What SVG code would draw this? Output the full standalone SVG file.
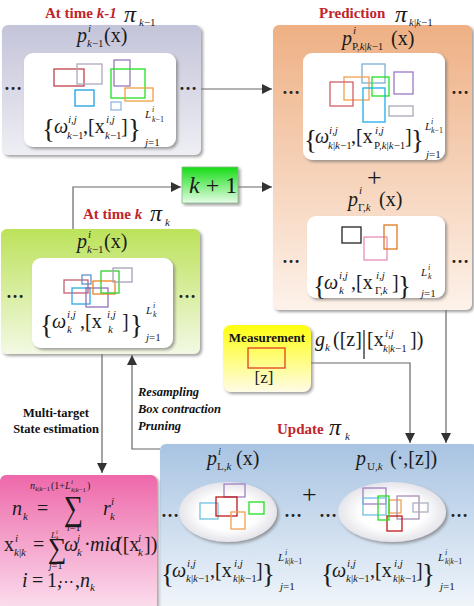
<svg xmlns="http://www.w3.org/2000/svg" width="474" height="606" viewBox="0 0 474 606">
<defs>
<linearGradient id="gLav" x1="0" y1="0" x2="0" y2="1"><stop offset="0" stop-color="#c4c4da"/><stop offset="1" stop-color="#eeeef4"/></linearGradient>
<linearGradient id="gPeach" x1="0" y1="0" x2="0" y2="1"><stop offset="0" stop-color="#eeb084"/><stop offset="1" stop-color="#fdf2ea"/></linearGradient>
<linearGradient id="gGreen" x1="0" y1="0" x2="0" y2="1"><stop offset="0" stop-color="#bce25a"/><stop offset="1" stop-color="#f3f9e4"/></linearGradient>
<linearGradient id="gK" x1="0" y1="0" x2="0" y2="1"><stop offset="0" stop-color="#14dc14"/><stop offset="1" stop-color="#e6fde6"/></linearGradient>
<linearGradient id="gYel" x1="0" y1="0" x2="0" y2="1"><stop offset="0" stop-color="#ffff10"/><stop offset="1" stop-color="#fffbe6"/></linearGradient>
<linearGradient id="gBlue" x1="0" y1="0" x2="0" y2="1"><stop offset="0" stop-color="#a8c4e2"/><stop offset="1" stop-color="#f3f7fb"/></linearGradient>
<linearGradient id="gPink" x1="0" y1="0" x2="0" y2="1"><stop offset="0" stop-color="#ee68aa"/><stop offset="1" stop-color="#fbe0ee"/></linearGradient>
<radialGradient id="gEll" cx="0.5" cy="0.5" r="0.5"><stop offset="0.6" stop-color="#ffffff"/><stop offset="1" stop-color="#e4e4ea"/></radialGradient>
<filter id="sh" x="-5%" y="-5%" width="115%" height="115%"><feDropShadow dx="2" dy="2" stdDeviation="1.5" flood-color="#777" flood-opacity="0.7"/></filter>
<marker id="ah" viewBox="0 0 10 10" refX="10" refY="5" markerWidth="10" markerHeight="10" markerUnits="userSpaceOnUse" orient="auto"><path d="M0,0 L10,5 L0,10 z" fill="#333"/></marker>
</defs>
<style>
.m{font-family:"Liberation Serif","Times New Roman",serif;font-size:20px;fill:#1a1a1a}
.i{font-style:italic}
.s{font-size:11px}
.ss{font-size:8px}
.br{font-size:27px}
.t{font-family:"Liberation Serif",serif;font-weight:bold;font-size:15px;fill:#c0242c}
.pi{font-size:24px;font-style:italic}
.lbl{font-family:"Liberation Serif",serif;font-weight:bold;font-size:12.5px;fill:#111}
.dots{font-family:"Liberation Serif",serif;font-size:18px;font-weight:bold;fill:#222}
.inner{fill:#fff;filter:url(#sh)}
.bx{fill:none;stroke-width:1.3}
.conn{fill:none;stroke:#666;stroke-width:1.2}
</style>

<g id="connectors">
<path class="conn" d="M201,89 H272" marker-end="url(#ah)"/>
<path class="conn" d="M73,229 V187 H181" marker-end="url(#ah)"/>
<path class="conn" d="M238,187 H272" marker-end="url(#ah)"/>
<path class="conn" d="M102,354 V473" marker-end="url(#ah)"/>
<path class="conn" d="M160,449 H132 V355" marker-end="url(#ah)"/>
<path class="conn" d="M311,363 H410 V443" marker-end="url(#ah)"/>
<path class="conn" d="M446,310 V443" marker-end="url(#ah)"/>
</g>

<g id="node-time-k-1">
<rect x="2" y="25" width="199" height="130" rx="6" fill="url(#gLav)" filter="url(#sh)"/>
<rect class="inner" x="24" y="53" width="152" height="94" rx="9"/>
<text class="t" x="45" y="18">At time <tspan class="i">k-1</tspan></text>
<text class="m"><tspan class="pi" x="124" y="22">π</tspan><tspan class="s i" x="139" y="26">k</tspan><tspan class="s">−1</tspan></text>
<text class="m"><tspan class="i" x="77" y="42">p</tspan><tspan class="s i" x="88" y="32">i</tspan><tspan class="s i" x="87" y="47">k</tspan><tspan class="s">−1</tspan><tspan x="104" y="42">(x)</tspan></text>
<text class="dots" x="4" y="90">…</text>
<text class="dots" x="179" y="90">…</text>
<rect class="bx" x="54" y="69" width="30" height="17" stroke="#c0404a"/>
<rect class="bx" x="77" y="64" width="25" height="20" stroke="#b0a8bc"/>
<rect class="bx" x="75" y="90" width="19" height="16" stroke="#1e9ee0" stroke-width="2"/>
<rect class="bx" x="114" y="60" width="16" height="26" stroke="#9a78b8"/>
<rect class="bx" x="111" y="69" width="34" height="29" stroke="#22e022" stroke-width="2"/>
<rect class="bx" x="125" y="88" width="28" height="13" stroke="#f0a040"/>
<rect class="bx" x="111" y="102" width="10" height="8" stroke="#90b8e0"/>
<text class="m"><tspan class="br" x="42" y="138">{</tspan><tspan class="i" x="54" y="133">ω</tspan><tspan class="s i" x="68" y="123">i,j</tspan><tspan class="s i" x="67" y="139">k</tspan><tspan class="s">−1</tspan><tspan x="83" y="133">,[x</tspan><tspan class="s i" x="106" y="123">i,j</tspan><tspan class="s i" x="105" y="139">k</tspan><tspan class="s">−1</tspan><tspan x="121" y="133">]</tspan><tspan class="br" x="128" y="138">}</tspan><tspan class="s i" x="145" y="118">L</tspan><tspan class="ss i" x="152" y="112">i</tspan><tspan class="ss i" x="152" y="122">k</tspan><tspan class="ss">−1</tspan><tspan class="s i" x="145" y="146">j</tspan><tspan class="s">=1</tspan></text>
</g>

<g id="node-prediction">
<rect x="273" y="25" width="199" height="285" rx="6" fill="url(#gPeach)" filter="url(#sh)"/>
<rect class="inner" x="303" y="53" width="142" height="107" rx="9"/>
<rect class="inner" x="307" y="216" width="138" height="82" rx="9"/>
<text class="t" x="319" y="18">Prediction</text>
<text class="m"><tspan class="pi" x="395" y="22">π</tspan><tspan class="s i" x="409" y="26">k</tspan><tspan class="s">|</tspan><tspan class="s i">k</tspan><tspan class="s">−1</tspan></text>
<text class="m"><tspan class="i" x="342" y="45">p</tspan><tspan class="s i" x="353" y="34">i</tspan><tspan class="s" x="352" y="50">P,</tspan><tspan class="s i">k</tspan><tspan class="s">|</tspan><tspan class="s i">k</tspan><tspan class="s">−1</tspan><tspan x="391" y="45">(x)</tspan></text>
<text class="dots" x="282" y="94">…</text>
<text class="dots" x="451" y="94">…</text>
<rect class="bx" x="362" y="64" width="23" height="19" stroke="#7aaed8"/>
<rect class="bx" x="344" y="77" width="25" height="23" stroke="#f0a050"/>
<rect class="bx" x="330" y="82" width="23" height="24" stroke="#d06068"/>
<rect class="bx" x="372" y="77" width="17" height="19" stroke="#22e022" stroke-width="2"/>
<rect class="bx" x="363" y="88" width="22" height="34" stroke="#1eaee8" stroke-width="2"/>
<rect class="bx" x="394" y="72" width="19" height="22" stroke="#9a78c8"/>
<rect class="bx" x="389" y="106" width="24" height="10" stroke="#a8a8b8"/>
<text class="m"><tspan class="br" x="304" y="149">{</tspan><tspan class="i" x="315" y="143">ω</tspan><tspan class="s i" x="329" y="134">i,j</tspan><tspan class="s i" x="328" y="149">k</tspan><tspan class="s">|</tspan><tspan class="s i">k</tspan><tspan class="s">−1</tspan><tspan x="351" y="143">,[x</tspan><tspan class="s i" x="375" y="134">i,j</tspan><tspan class="s" x="374" y="149">P,</tspan><tspan class="s i">k</tspan><tspan class="s">|</tspan><tspan class="s i">k</tspan><tspan class="s">−1</tspan><tspan x="405" y="143">]</tspan><tspan class="br" x="411" y="149">}</tspan><tspan class="s i" x="425" y="130">L</tspan><tspan class="ss i" x="431" y="124">i</tspan><tspan class="ss i" x="431" y="133">k</tspan><tspan class="ss">−1</tspan><tspan class="s i" x="426" y="158">j</tspan><tspan class="s">=1</tspan></text>
<text class="m" x="367" y="186" style="font-size:26px">+</text>
<text class="m"><tspan class="i" x="348" y="206">p</tspan><tspan class="s i" x="359" y="194">i</tspan><tspan class="s" x="358" y="211">Γ,</tspan><tspan class="s i">k</tspan><tspan x="379" y="206">(x)</tspan></text>
<text class="dots" x="282" y="263">…</text>
<text class="dots" x="451" y="263">…</text>
<rect class="bx" x="342" y="227" width="19" height="16" stroke="#222"/>
<rect class="bx" x="364" y="237" width="23" height="23" stroke="#e890b8"/>
<rect class="bx" x="384" y="225" width="13" height="24" stroke="#e07820" stroke-width="1.8"/>
<text class="m"><tspan class="br" x="313" y="295">{</tspan><tspan class="i" x="324" y="289">ω</tspan><tspan class="s i" x="339" y="279">i,j</tspan><tspan class="s i" x="339" y="294">k</tspan><tspan x="351" y="289">,[x</tspan><tspan class="s i" x="376" y="279">i,j</tspan><tspan class="s" x="375" y="294">Γ,</tspan><tspan class="s i">k</tspan><tspan x="392" y="289">]</tspan><tspan class="br" x="398" y="295">}</tspan><tspan class="s i" x="421" y="276">L</tspan><tspan class="ss i" x="428" y="270">i</tspan><tspan class="ss i" x="428" y="279">k</tspan><tspan class="s i" x="421" y="297">j</tspan><tspan class="s">=1</tspan></text>
</g>

<g id="node-k-plus-1">
<rect x="182" y="167" width="56" height="36" fill="url(#gK)" stroke="#8ab88a" stroke-width="0.8" filter="url(#sh)"/>
<text class="m" style="font-size:24px" x="189" y="193"><tspan class="i">k</tspan> + 1</text>
</g>

<g id="node-time-k">
<rect x="1" y="229" width="199" height="125" rx="6" fill="url(#gGreen)" filter="url(#sh)"/>
<rect class="inner" x="32" y="258" width="141" height="90" rx="9"/>
<text class="t" x="83" y="219">At time <tspan class="i">k</tspan></text>
<text class="m"><tspan class="pi" x="150" y="221">π</tspan><tspan class="s i" x="165" y="226">k</tspan></text>
<text class="m"><tspan class="i" x="77" y="248">p</tspan><tspan class="s i" x="88" y="238">i</tspan><tspan class="s i" x="87" y="253">k</tspan><tspan class="s">−1</tspan><tspan x="104" y="248">(x)</tspan></text>
<text class="dots" x="6" y="298">…</text>
<text class="dots" x="178" y="298">…</text>
<rect class="bx" x="64" y="280" width="24" height="13" stroke="#c06070"/>
<rect class="bx" x="82" y="275" width="9" height="9" stroke="#6090d0"/>
<rect class="bx" x="72" y="288" width="18" height="16" stroke="#30a8e0"/>
<rect class="bx" x="86" y="288" width="22" height="19" stroke="#9070b8"/>
<rect class="bx" x="93" y="281" width="22" height="13" stroke="#f08020" stroke-width="2"/>
<rect class="bx" x="101" y="271" width="18" height="22" stroke="#30d030"/>
<rect class="bx" x="113" y="268" width="19" height="14" stroke="#a8a0b8"/>
<text class="m"><tspan class="br" x="40" y="334">{</tspan><tspan class="i" x="52" y="328">ω</tspan><tspan class="s i" x="67" y="318">i,j</tspan><tspan class="s i" x="67" y="333">k</tspan><tspan x="80" y="328">,[x</tspan><tspan class="s i" x="107" y="318">i,j</tspan><tspan class="s i" x="108" y="333">k</tspan><tspan x="122" y="328">]</tspan><tspan class="br" x="130" y="334">}</tspan><tspan class="s i" x="146" y="314">L</tspan><tspan class="ss i" x="153" y="308">i</tspan><tspan class="ss i" x="153" y="317">k</tspan><tspan class="s i" x="146" y="341">j</tspan><tspan class="s">=1</tspan></text>
</g>

<g id="node-measurement">
<rect x="223" y="325" width="88" height="67" rx="8" fill="url(#gYel)" filter="url(#sh)"/>
<text class="lbl" x="267" y="342" text-anchor="middle" style="font-size:13px">Measurement</text>
<rect class="bx" x="248" y="348" width="37" height="20" stroke="#e04020" stroke-width="1.5"/>
<text class="m" x="264" y="383" text-anchor="middle" style="font-size:17px">[z]</text>
<text class="m"><tspan class="i" x="315" y="346">g</tspan><tspan class="s i" x="325" y="351">k</tspan><tspan x="333" y="346">([z]</tspan><tspan x="367" y="346">[x</tspan><tspan class="s i" x="385" y="337">i,j</tspan><tspan class="s i" x="383" y="352">k</tspan><tspan class="s">|</tspan><tspan class="s i">k</tspan><tspan class="s">−1</tspan><tspan x="410" y="346">])</tspan></text>
<line x1="364" y1="330" x2="364" y2="359" stroke="#1a1a1a" stroke-width="1.2"/>
</g>

<g id="labels">
<text class="lbl" x="56" y="417" text-anchor="middle">Multi-target</text>
<text class="lbl" x="56" y="433" text-anchor="middle">State estimation</text>
<text class="lbl i" x="138" y="396">Resampling</text>
<text class="lbl i" x="138" y="413">Box contraction</text>
<text class="lbl i" x="138" y="430">Pruning</text>
<text class="t" x="277" y="434">Update</text>
<text class="m"><tspan class="pi" x="329" y="435">π</tspan><tspan class="s i" x="345" y="440">k</tspan></text>
</g>

<g id="node-update">
<rect x="160" y="444" width="318" height="170" rx="6" fill="url(#gBlue)" filter="url(#sh)"/>
<ellipse cx="228" cy="512" rx="49" ry="30" fill="url(#gEll)" filter="url(#sh)"/>
<ellipse cx="392" cy="512" rx="54" ry="30" fill="url(#gEll)" filter="url(#sh)"/>
<text class="m"><tspan class="i" x="207" y="465">p</tspan><tspan class="s i" x="218" y="455">i</tspan><tspan class="s" x="217" y="470">L,</tspan><tspan class="s i">k</tspan><tspan x="236" y="465">(x)</tspan></text>
<text class="m"><tspan class="i" x="356" y="465">p</tspan><tspan class="s" x="367" y="470">U,</tspan><tspan class="s i">k</tspan><tspan x="390" y="465">(·,[z])</tspan></text>
<text class="m" x="302" y="503" style="font-size:26px">+</text>
<text class="dots" x="161" y="517">…</text>
<text class="dots" x="284" y="517">…</text>
<text class="dots" x="319" y="517">…</text>
<text class="dots" x="450" y="517">…</text>
<rect class="bx" x="224" y="484" width="21" height="13" stroke="#a080c0"/>
<rect class="bx" x="200" y="503" width="18" height="16" stroke="#70c0e0"/>
<rect class="bx" x="216" y="497" width="21" height="19" stroke="#c01818" stroke-width="2"/>
<rect class="bx" x="231" y="512" width="14" height="17" stroke="#f0a050"/>
<rect class="bx" x="249" y="502" width="15" height="12" stroke="#22e022" stroke-width="1.6"/>
<rect class="bx" x="363" y="488" width="23" height="16" stroke="#a080c0"/>
<rect class="bx" x="363" y="498" width="23" height="17" stroke="#70c0e0"/>
<rect class="bx" x="389" y="500" width="12" height="13" stroke="#f0a050"/>
<rect class="bx" x="397" y="496" width="22" height="23" stroke="#a890b0"/>
<rect class="bx" x="413" y="503" width="15" height="9" stroke="#b0b0c0"/>
<rect class="bx" x="387" y="516" width="15" height="15" stroke="#c01818" stroke-width="1.8"/>
<rect class="bx" x="378" y="496" width="11" height="24" stroke="#22e022" stroke-width="2"/>
<text class="m"><tspan class="br" x="161" y="583">{</tspan><tspan class="i" x="172" y="577">ω</tspan><tspan class="s i" x="187" y="567">i,j</tspan><tspan class="s i" x="186" y="582">k</tspan><tspan class="s">|</tspan><tspan class="s i">k</tspan><tspan class="s">−1</tspan><tspan x="210" y="577">,[x</tspan><tspan class="s i" x="234" y="567">i,j</tspan><tspan class="s i" x="233" y="582">k</tspan><tspan class="s">|</tspan><tspan class="s i">k</tspan><tspan class="s">−1</tspan><tspan x="256" y="577">]</tspan><tspan class="br" x="262" y="583">}</tspan><tspan class="s i" x="278" y="561">L</tspan><tspan class="ss i" x="285" y="555">i</tspan><tspan class="ss i" x="285" y="564">k</tspan><tspan class="ss">|</tspan><tspan class="ss i">k</tspan><tspan class="ss">−1</tspan><tspan class="s i" x="280" y="590">j</tspan><tspan class="s">=1</tspan></text>
<text class="m"><tspan class="br" x="321" y="583">{</tspan><tspan class="i" x="332" y="577">ω</tspan><tspan class="s i" x="347" y="567">i,j</tspan><tspan class="s i" x="346" y="582">k</tspan><tspan class="s">|</tspan><tspan class="s i">k</tspan><tspan class="s">−1</tspan><tspan x="370" y="577">,[x</tspan><tspan class="s i" x="394" y="567">i,j</tspan><tspan class="s i" x="393" y="582">k</tspan><tspan class="s">|</tspan><tspan class="s i">k</tspan><tspan class="s">−1</tspan><tspan x="416" y="577">]</tspan><tspan class="br" x="422" y="583">}</tspan><tspan class="s i" x="438" y="561">L</tspan><tspan class="ss i" x="445" y="555">i</tspan><tspan class="ss i" x="445" y="564">k</tspan><tspan class="ss">|</tspan><tspan class="ss i">k</tspan><tspan class="ss">−1</tspan><tspan class="s i" x="440" y="590">j</tspan><tspan class="s">=1</tspan></text>
</g>

<g id="node-estimation">
<rect x="0" y="475" width="157" height="136" rx="6" fill="url(#gPink)" filter="url(#sh)"/>
<text class="m"><tspan class="i" x="12" y="515">n</tspan><tspan class="s i" x="23" y="520">k</tspan><tspan x="37" y="515">=</tspan></text>
<text class="m" style="font-size:10px"><tspan class="i" x="30" y="489">n</tspan><tspan class="i" style="font-size:7px" x="35" y="491">k</tspan><tspan style="font-size:7px">|</tspan><tspan class="i" style="font-size:7px">k</tspan><tspan style="font-size:7px">−1</tspan><tspan x="51" y="489">(1+</tspan><tspan class="i" x="65" y="489">L</tspan><tspan class="i" style="font-size:7px" x="71" y="484">i</tspan><tspan class="i" style="font-size:7px" x="71" y="492">k</tspan><tspan style="font-size:7px">|</tspan><tspan class="i" style="font-size:7px">k</tspan><tspan style="font-size:7px">−1</tspan><tspan x="87" y="489">)</tspan></text>
<text class="m" transform="translate(64,520) scale(1,1.3)" style="font-size:27px">∑</text>
<text class="m" style="font-size:10px"><tspan class="i" x="67" y="531">i</tspan><tspan>=1</tspan></text>
<text class="m"><tspan class="i" x="103" y="515">r</tspan><tspan class="s i" x="111" y="505">i</tspan><tspan class="s i" x="110" y="520">k</tspan></text>
<text class="m"><tspan x="4" y="551">x</tspan><tspan class="s i" x="15" y="542">i</tspan><tspan class="s i" x="14" y="556">k</tspan><tspan class="s">|</tspan><tspan class="s i">k</tspan><tspan x="33" y="551">=</tspan></text>
<text class="m" transform="translate(48,558) scale(1,1.12)" style="font-size:26px">∑</text>
<text class="m"><tspan class="i" style="font-size:9px" x="51" y="538">L</tspan><tspan class="i" style="font-size:6px" x="56" y="534">i</tspan><tspan class="i" style="font-size:6px" x="56" y="540">k</tspan><tspan class="i" style="font-size:10px" x="49" y="569">j</tspan><tspan style="font-size:10px">=1</tspan></text>
<text class="m"><tspan class="i" x="64" y="551">ω</tspan><tspan class="s i" x="77" y="542">j</tspan><tspan class="s i" x="77" y="556">k</tspan><tspan x="84" y="551">·</tspan><tspan class="i" x="90" y="551">mid</tspan><tspan x="116" y="551">([x</tspan><tspan class="s i" x="138" y="542">i</tspan><tspan class="s i" x="138" y="556">k</tspan><tspan x="144" y="551">])</tspan></text>
<text class="m"><tspan class="i" x="22" y="587">i</tspan><tspan x="32" y="587">=</tspan><tspan x="47" y="587">1,</tspan><tspan x="58" y="587" style="font-family:'DejaVu Serif',serif;font-size:16px">⋯</tspan><tspan x="75" y="587">,</tspan><tspan class="i" x="80" y="587">n</tspan><tspan class="s i" x="90" y="591">k</tspan></text>
</g>
</svg>
